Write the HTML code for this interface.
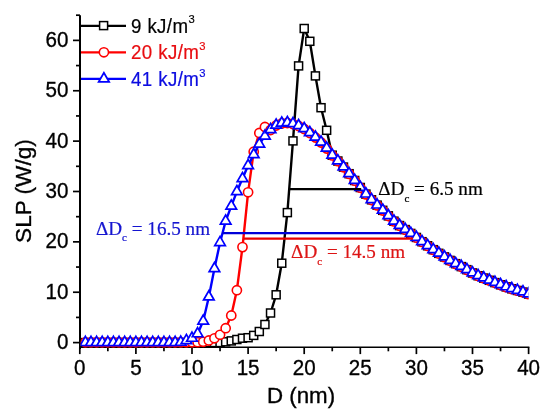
<!DOCTYPE html>
<html><head><meta charset="utf-8"><style>html,body{margin:0;padding:0;background:#fff;width:550px;height:412px;overflow:hidden}svg{display:block}</style></head>
<body><svg width="550" height="412" viewBox="0 0 550 412">
<rect width="550" height="412" fill="#fff"/>
<defs><clipPath id="c"><rect x="80.5" y="0" width="448.1" height="348.3"/></clipPath></defs>
<g stroke="#000" stroke-width="2" fill="none"><line x1="80" y1="15.2" x2="80" y2="349" /><line x1="79" y1="347.3" x2="529.4" y2="347.3" stroke-width="1.6"/></g>
<g stroke="#000" stroke-width="1.7"><line x1="73" y1="342.60" x2="80" y2="342.60"/><line x1="76" y1="317.42" x2="80" y2="317.42"/><line x1="73" y1="292.23" x2="80" y2="292.23"/><line x1="76" y1="267.05" x2="80" y2="267.05"/><line x1="73" y1="241.86" x2="80" y2="241.86"/><line x1="76" y1="216.68" x2="80" y2="216.68"/><line x1="73" y1="191.49" x2="80" y2="191.49"/><line x1="76" y1="166.31" x2="80" y2="166.31"/><line x1="73" y1="141.12" x2="80" y2="141.12"/><line x1="76" y1="115.94" x2="80" y2="115.94"/><line x1="73" y1="90.75" x2="80" y2="90.75"/><line x1="76" y1="65.57" x2="80" y2="65.57"/><line x1="73" y1="40.38" x2="80" y2="40.38"/><line x1="76" y1="15.20" x2="80" y2="15.20"/><line x1="79.80" y1="347.3" x2="79.80" y2="354.1"/><line x1="107.85" y1="347.3" x2="107.85" y2="351.3"/><line x1="135.90" y1="347.3" x2="135.90" y2="354.1"/><line x1="163.95" y1="347.3" x2="163.95" y2="351.3"/><line x1="192.00" y1="347.3" x2="192.00" y2="354.1"/><line x1="220.05" y1="347.3" x2="220.05" y2="351.3"/><line x1="248.10" y1="347.3" x2="248.10" y2="354.1"/><line x1="276.15" y1="347.3" x2="276.15" y2="351.3"/><line x1="304.20" y1="347.3" x2="304.20" y2="354.1"/><line x1="332.25" y1="347.3" x2="332.25" y2="351.3"/><line x1="360.30" y1="347.3" x2="360.30" y2="354.1"/><line x1="388.35" y1="347.3" x2="388.35" y2="351.3"/><line x1="416.40" y1="347.3" x2="416.40" y2="354.1"/><line x1="444.45" y1="347.3" x2="444.45" y2="351.3"/><line x1="472.50" y1="347.3" x2="472.50" y2="354.1"/><line x1="500.55" y1="347.3" x2="500.55" y2="351.3"/><line x1="528.60" y1="347.3" x2="528.60" y2="354.1"/></g>

<g clip-path="url(#c)">
<g fill="none" stroke="#000" stroke-width="2.4" stroke-linejoin="round"><polyline points="85.41,342.60 91.02,342.60 96.63,342.60 102.24,342.60 107.85,342.60 113.46,342.60 119.07,342.60 124.68,342.60 130.29,342.60 135.90,342.60 141.51,342.60 147.12,342.60 152.73,342.60 158.34,342.60 163.95,342.60 169.56,342.60 175.17,342.60 180.78,342.60 186.39,342.60 192.00,342.60 197.61,342.60 203.22,342.60 208.83,342.60 214.44,342.60 220.05,342.60 225.66,341.80 231.27,340.90 236.88,339.50 242.49,338.20 248.10,337.70 253.71,335.40 259.32,331.50 264.93,324.50 270.54,313.00 276.15,294.80 281.76,263.20 287.37,212.60 292.98,140.90 298.59,65.90 304.20,28.50 309.81,41.30 315.42,75.90 321.03,107.70 326.64,130.30 332.25,155.21 337.86,161.02 343.47,167.08 349.08,173.70 354.69,180.48 360.30,187.50 365.91,194.11 371.52,199.79 377.13,205.15 382.74,210.33 388.35,215.85 393.96,221.20 399.57,225.56 405.18,229.58 410.79,233.45 416.40,237.45 422.01,241.69 427.62,245.77 433.23,249.67 438.84,253.35 444.45,256.91 450.06,260.43 455.67,263.66 461.28,266.60 466.89,269.67 472.50,272.95 478.11,275.74 483.72,278.07 489.33,280.30 494.94,282.59 500.55,284.80 506.16,286.88 511.77,288.80 517.38,290.46 522.99,292.10 528.60,294.00"/></g>
<g fill="#fff" stroke="#000" stroke-width="1.5"><rect x="81.41" y="338.60" width="8.0" height="8.0"/><rect x="87.02" y="338.60" width="8.0" height="8.0"/><rect x="92.63" y="338.60" width="8.0" height="8.0"/><rect x="98.24" y="338.60" width="8.0" height="8.0"/><rect x="103.85" y="338.60" width="8.0" height="8.0"/><rect x="109.46" y="338.60" width="8.0" height="8.0"/><rect x="115.07" y="338.60" width="8.0" height="8.0"/><rect x="120.68" y="338.60" width="8.0" height="8.0"/><rect x="126.29" y="338.60" width="8.0" height="8.0"/><rect x="131.90" y="338.60" width="8.0" height="8.0"/><rect x="137.51" y="338.60" width="8.0" height="8.0"/><rect x="143.12" y="338.60" width="8.0" height="8.0"/><rect x="148.73" y="338.60" width="8.0" height="8.0"/><rect x="154.34" y="338.60" width="8.0" height="8.0"/><rect x="159.95" y="338.60" width="8.0" height="8.0"/><rect x="165.56" y="338.60" width="8.0" height="8.0"/><rect x="171.17" y="338.60" width="8.0" height="8.0"/><rect x="176.78" y="338.60" width="8.0" height="8.0"/><rect x="182.39" y="338.60" width="8.0" height="8.0"/><rect x="188.00" y="338.60" width="8.0" height="8.0"/><rect x="193.61" y="338.60" width="8.0" height="8.0"/><rect x="199.22" y="338.60" width="8.0" height="8.0"/><rect x="204.83" y="338.60" width="8.0" height="8.0"/><rect x="210.44" y="338.60" width="8.0" height="8.0"/><rect x="216.05" y="338.60" width="8.0" height="8.0"/><rect x="221.66" y="337.80" width="8.0" height="8.0"/><rect x="227.27" y="336.90" width="8.0" height="8.0"/><rect x="232.88" y="335.50" width="8.0" height="8.0"/><rect x="238.49" y="334.20" width="8.0" height="8.0"/><rect x="244.10" y="333.70" width="8.0" height="8.0"/><rect x="249.71" y="331.40" width="8.0" height="8.0"/><rect x="255.32" y="327.50" width="8.0" height="8.0"/><rect x="260.93" y="320.50" width="8.0" height="8.0"/><rect x="266.54" y="309.00" width="8.0" height="8.0"/><rect x="272.15" y="290.80" width="8.0" height="8.0"/><rect x="277.76" y="259.20" width="8.0" height="8.0"/><rect x="283.37" y="208.60" width="8.0" height="8.0"/><rect x="288.98" y="136.90" width="8.0" height="8.0"/><rect x="294.59" y="61.90" width="8.0" height="8.0"/><rect x="300.20" y="24.50" width="8.0" height="8.0"/><rect x="305.81" y="37.30" width="8.0" height="8.0"/><rect x="311.42" y="71.90" width="8.0" height="8.0"/><rect x="317.03" y="103.70" width="8.0" height="8.0"/><rect x="322.64" y="126.30" width="8.0" height="8.0"/><rect x="328.25" y="151.21" width="8.0" height="8.0"/><rect x="333.86" y="157.02" width="8.0" height="8.0"/><rect x="339.47" y="163.08" width="8.0" height="8.0"/><rect x="345.08" y="169.70" width="8.0" height="8.0"/><rect x="350.69" y="176.48" width="8.0" height="8.0"/><rect x="356.30" y="183.50" width="8.0" height="8.0"/><rect x="361.91" y="190.11" width="8.0" height="8.0"/><rect x="367.52" y="195.79" width="8.0" height="8.0"/><rect x="373.13" y="201.15" width="8.0" height="8.0"/><rect x="378.74" y="206.33" width="8.0" height="8.0"/><rect x="384.35" y="211.85" width="8.0" height="8.0"/><rect x="389.96" y="217.20" width="8.0" height="8.0"/><rect x="395.57" y="221.56" width="8.0" height="8.0"/><rect x="401.18" y="225.58" width="8.0" height="8.0"/><rect x="406.79" y="229.45" width="8.0" height="8.0"/><rect x="412.40" y="233.45" width="8.0" height="8.0"/><rect x="418.01" y="237.69" width="8.0" height="8.0"/><rect x="423.62" y="241.77" width="8.0" height="8.0"/><rect x="429.23" y="245.67" width="8.0" height="8.0"/><rect x="434.84" y="249.35" width="8.0" height="8.0"/><rect x="440.45" y="252.91" width="8.0" height="8.0"/><rect x="446.06" y="256.43" width="8.0" height="8.0"/><rect x="451.67" y="259.66" width="8.0" height="8.0"/><rect x="457.28" y="262.60" width="8.0" height="8.0"/><rect x="462.89" y="265.67" width="8.0" height="8.0"/><rect x="468.50" y="268.95" width="8.0" height="8.0"/><rect x="474.11" y="271.74" width="8.0" height="8.0"/><rect x="479.72" y="274.07" width="8.0" height="8.0"/><rect x="485.33" y="276.30" width="8.0" height="8.0"/><rect x="490.94" y="278.59" width="8.0" height="8.0"/><rect x="496.55" y="280.80" width="8.0" height="8.0"/><rect x="502.16" y="282.88" width="8.0" height="8.0"/><rect x="507.77" y="284.80" width="8.0" height="8.0"/><rect x="513.38" y="286.46" width="8.0" height="8.0"/><rect x="518.99" y="288.10" width="8.0" height="8.0"/><rect x="524.60" y="290.00" width="8.0" height="8.0"/></g>
<g fill="none" stroke="#f00" stroke-width="2.4" stroke-linejoin="round"><polyline points="85.41,342.30 91.02,342.30 96.63,342.30 102.24,342.30 107.85,342.30 113.46,342.30 119.07,342.30 124.68,342.30 130.29,342.30 135.90,342.30 141.51,342.30 147.12,342.30 152.73,342.30 158.34,342.30 163.95,342.30 169.56,342.30 175.17,342.30 180.78,342.30 186.39,342.30 192.00,342.30 197.61,342.20 203.22,341.80 208.83,340.50 214.44,338.30 220.05,334.80 225.66,328.20 231.27,315.50 236.88,290.20 242.49,247.10 248.10,192.30 253.71,151.70 259.32,133.00 264.93,127.00 270.54,130.00 276.15,125.50 281.76,123.50 287.37,123.00 292.98,124.00 298.59,126.00 304.20,129.00 309.81,133.00 315.42,137.50 321.03,142.50 326.64,148.50 332.25,155.41 337.86,161.22 343.47,167.28 349.08,173.90 354.69,180.68 360.30,187.70 365.91,194.31 371.52,199.99 377.13,205.35 382.74,210.53 388.35,216.05 393.96,221.40 399.57,225.76 405.18,229.78 410.79,233.65 416.40,237.65 422.01,241.89 427.62,245.97 433.23,249.87 438.84,253.55 444.45,257.11 450.06,260.63 455.67,263.86 461.28,266.80 466.89,269.87 472.50,273.15 478.11,275.94 483.72,278.27 489.33,280.50 494.94,282.79 500.55,285.00 506.16,287.08 511.77,289.00 517.38,290.66 522.99,292.30 528.60,294.20"/></g>
<g fill="#fff" stroke="#f00" stroke-width="1.6"><circle cx="85.41" cy="342.30" r="4.6"/><circle cx="91.02" cy="342.30" r="4.6"/><circle cx="96.63" cy="342.30" r="4.6"/><circle cx="102.24" cy="342.30" r="4.6"/><circle cx="107.85" cy="342.30" r="4.6"/><circle cx="113.46" cy="342.30" r="4.6"/><circle cx="119.07" cy="342.30" r="4.6"/><circle cx="124.68" cy="342.30" r="4.6"/><circle cx="130.29" cy="342.30" r="4.6"/><circle cx="135.90" cy="342.30" r="4.6"/><circle cx="141.51" cy="342.30" r="4.6"/><circle cx="147.12" cy="342.30" r="4.6"/><circle cx="152.73" cy="342.30" r="4.6"/><circle cx="158.34" cy="342.30" r="4.6"/><circle cx="163.95" cy="342.30" r="4.6"/><circle cx="169.56" cy="342.30" r="4.6"/><circle cx="175.17" cy="342.30" r="4.6"/><circle cx="180.78" cy="342.30" r="4.6"/><circle cx="186.39" cy="342.30" r="4.6"/><circle cx="192.00" cy="342.30" r="4.6"/><circle cx="197.61" cy="342.20" r="4.6"/><circle cx="203.22" cy="341.80" r="4.6"/><circle cx="208.83" cy="340.50" r="4.6"/><circle cx="214.44" cy="338.30" r="4.6"/><circle cx="220.05" cy="334.80" r="4.6"/><circle cx="225.66" cy="328.20" r="4.6"/><circle cx="231.27" cy="315.50" r="4.6"/><circle cx="236.88" cy="290.20" r="4.6"/><circle cx="242.49" cy="247.10" r="4.6"/><circle cx="248.10" cy="192.30" r="4.6"/><circle cx="253.71" cy="151.70" r="4.6"/><circle cx="259.32" cy="133.00" r="4.6"/><circle cx="264.93" cy="127.00" r="4.6"/><circle cx="270.54" cy="130.00" r="4.6"/><circle cx="276.15" cy="125.50" r="4.6"/><circle cx="281.76" cy="123.50" r="4.6"/><circle cx="287.37" cy="123.00" r="4.6"/><circle cx="292.98" cy="124.00" r="4.6"/><circle cx="298.59" cy="126.00" r="4.6"/><circle cx="304.20" cy="129.00" r="4.6"/><circle cx="309.81" cy="133.00" r="4.6"/><circle cx="315.42" cy="137.50" r="4.6"/><circle cx="321.03" cy="142.50" r="4.6"/><circle cx="326.64" cy="148.50" r="4.6"/><circle cx="332.25" cy="155.41" r="4.6"/><circle cx="337.86" cy="161.22" r="4.6"/><circle cx="343.47" cy="167.28" r="4.6"/><circle cx="349.08" cy="173.90" r="4.6"/><circle cx="354.69" cy="180.68" r="4.6"/><circle cx="360.30" cy="187.70" r="4.6"/><circle cx="365.91" cy="194.31" r="4.6"/><circle cx="371.52" cy="199.99" r="4.6"/><circle cx="377.13" cy="205.35" r="4.6"/><circle cx="382.74" cy="210.53" r="4.6"/><circle cx="388.35" cy="216.05" r="4.6"/><circle cx="393.96" cy="221.40" r="4.6"/><circle cx="399.57" cy="225.76" r="4.6"/><circle cx="405.18" cy="229.78" r="4.6"/><circle cx="410.79" cy="233.65" r="4.6"/><circle cx="416.40" cy="237.65" r="4.6"/><circle cx="422.01" cy="241.89" r="4.6"/><circle cx="427.62" cy="245.97" r="4.6"/><circle cx="433.23" cy="249.87" r="4.6"/><circle cx="438.84" cy="253.55" r="4.6"/><circle cx="444.45" cy="257.11" r="4.6"/><circle cx="450.06" cy="260.63" r="4.6"/><circle cx="455.67" cy="263.86" r="4.6"/><circle cx="461.28" cy="266.80" r="4.6"/><circle cx="466.89" cy="269.87" r="4.6"/><circle cx="472.50" cy="273.15" r="4.6"/><circle cx="478.11" cy="275.94" r="4.6"/><circle cx="483.72" cy="278.27" r="4.6"/><circle cx="489.33" cy="280.50" r="4.6"/><circle cx="494.94" cy="282.79" r="4.6"/><circle cx="500.55" cy="285.00" r="4.6"/><circle cx="506.16" cy="287.08" r="4.6"/><circle cx="511.77" cy="289.00" r="4.6"/><circle cx="517.38" cy="290.66" r="4.6"/><circle cx="522.99" cy="292.30" r="4.6"/><circle cx="528.60" cy="294.20" r="4.6"/></g>
<g fill="none" stroke="#00f" stroke-width="2.4" stroke-linejoin="round"><polyline points="85.41,342.45 91.02,342.45 96.63,342.45 102.24,342.45 107.85,342.45 113.46,342.45 119.07,342.45 124.68,342.45 130.29,342.45 135.90,342.45 141.51,342.45 147.12,342.45 152.73,342.45 158.34,342.45 163.95,342.45 169.56,342.45 175.17,342.45 180.78,342.20 186.39,340.50 192.00,338.20 197.61,333.70 203.22,321.10 208.83,296.90 214.44,268.60 220.05,242.50 225.66,221.10 231.27,206.10 236.88,191.60 242.49,178.60 248.10,165.60 253.71,154.60 259.32,144.10 264.93,136.10 270.54,129.60 276.15,125.10 281.76,123.10 287.37,122.60 292.98,123.60 298.59,125.60 304.20,128.60 309.81,132.60 315.42,137.10 321.03,142.10 326.64,148.10 332.25,155.01 337.86,160.82 343.47,166.88 349.08,173.50 354.69,180.28 360.30,187.30 365.91,193.91 371.52,199.59 377.13,204.95 382.74,210.13 388.35,215.65 393.96,221.00 399.57,225.36 405.18,229.38 410.79,233.25 416.40,237.25 422.01,241.49 427.62,245.57 433.23,249.47 438.84,253.15 444.45,256.71 450.06,260.23 455.67,263.46 461.28,266.40 466.89,269.47 472.50,272.75 478.11,275.54 483.72,277.87 489.33,280.10 494.94,282.39 500.55,284.60 506.16,286.68 511.77,288.60 517.38,290.26 522.99,291.90 528.60,293.80"/></g>
<g fill="#fff" stroke="#00f" stroke-width="1.7" stroke-linejoin="miter"><path d="M85.41,336.32L90.71,345.52L80.11,345.52Z"/><path d="M91.02,336.32L96.32,345.52L85.72,345.52Z"/><path d="M96.63,336.32L101.93,345.52L91.33,345.52Z"/><path d="M102.24,336.32L107.54,345.52L96.94,345.52Z"/><path d="M107.85,336.32L113.15,345.52L102.55,345.52Z"/><path d="M113.46,336.32L118.76,345.52L108.16,345.52Z"/><path d="M119.07,336.32L124.37,345.52L113.77,345.52Z"/><path d="M124.68,336.32L129.98,345.52L119.38,345.52Z"/><path d="M130.29,336.32L135.59,345.52L124.99,345.52Z"/><path d="M135.90,336.32L141.20,345.52L130.60,345.52Z"/><path d="M141.51,336.32L146.81,345.52L136.21,345.52Z"/><path d="M147.12,336.32L152.42,345.52L141.82,345.52Z"/><path d="M152.73,336.32L158.03,345.52L147.43,345.52Z"/><path d="M158.34,336.32L163.64,345.52L153.04,345.52Z"/><path d="M163.95,336.32L169.25,345.52L158.65,345.52Z"/><path d="M169.56,336.32L174.86,345.52L164.26,345.52Z"/><path d="M175.17,336.32L180.47,345.52L169.87,345.52Z"/><path d="M180.78,336.07L186.08,345.27L175.48,345.27Z"/><path d="M186.39,334.37L191.69,343.57L181.09,343.57Z"/><path d="M192.00,332.07L197.30,341.27L186.70,341.27Z"/><path d="M197.61,327.57L202.91,336.77L192.31,336.77Z"/><path d="M203.22,314.97L208.52,324.17L197.92,324.17Z"/><path d="M208.83,290.77L214.13,299.97L203.53,299.97Z"/><path d="M214.44,262.47L219.74,271.67L209.14,271.67Z"/><path d="M220.05,236.37L225.35,245.57L214.75,245.57Z"/><path d="M225.66,214.97L230.96,224.17L220.36,224.17Z"/><path d="M231.27,199.97L236.57,209.17L225.97,209.17Z"/><path d="M236.88,185.47L242.18,194.67L231.58,194.67Z"/><path d="M242.49,172.47L247.79,181.67L237.19,181.67Z"/><path d="M248.10,159.47L253.40,168.67L242.80,168.67Z"/><path d="M253.71,148.47L259.01,157.67L248.41,157.67Z"/><path d="M259.32,137.97L264.62,147.17L254.02,147.17Z"/><path d="M264.93,129.97L270.23,139.17L259.63,139.17Z"/><path d="M270.54,123.47L275.84,132.67L265.24,132.67Z"/><path d="M276.15,118.97L281.45,128.17L270.85,128.17Z"/><path d="M281.76,116.97L287.06,126.17L276.46,126.17Z"/><path d="M287.37,116.47L292.67,125.67L282.07,125.67Z"/><path d="M292.98,117.47L298.28,126.67L287.68,126.67Z"/><path d="M298.59,119.47L303.89,128.67L293.29,128.67Z"/><path d="M304.20,122.47L309.50,131.67L298.90,131.67Z"/><path d="M309.81,126.47L315.11,135.67L304.51,135.67Z"/><path d="M315.42,130.97L320.72,140.17L310.12,140.17Z"/><path d="M321.03,135.97L326.33,145.17L315.73,145.17Z"/><path d="M326.64,141.97L331.94,151.17L321.34,151.17Z"/><path d="M332.25,148.88L337.55,158.08L326.95,158.08Z"/><path d="M337.86,154.68L343.16,163.88L332.56,163.88Z"/><path d="M343.47,160.75L348.77,169.95L338.17,169.95Z"/><path d="M349.08,167.37L354.38,176.57L343.78,176.57Z"/><path d="M354.69,174.15L359.99,183.35L349.39,183.35Z"/><path d="M360.30,181.17L365.60,190.37L355.00,190.37Z"/><path d="M365.91,187.78L371.21,196.98L360.61,196.98Z"/><path d="M371.52,193.45L376.82,202.65L366.22,202.65Z"/><path d="M377.13,198.81L382.43,208.01L371.83,208.01Z"/><path d="M382.74,204.00L388.04,213.20L377.44,213.20Z"/><path d="M388.35,209.51L393.65,218.71L383.05,218.71Z"/><path d="M393.96,214.87L399.26,224.07L388.66,224.07Z"/><path d="M399.57,219.23L404.87,228.43L394.27,228.43Z"/><path d="M405.18,223.25L410.48,232.45L399.88,232.45Z"/><path d="M410.79,227.11L416.09,236.31L405.49,236.31Z"/><path d="M416.40,231.12L421.70,240.32L411.10,240.32Z"/><path d="M422.01,235.36L427.31,244.56L416.71,244.56Z"/><path d="M427.62,239.43L432.92,248.63L422.32,248.63Z"/><path d="M433.23,243.34L438.53,252.54L427.93,252.54Z"/><path d="M438.84,247.02L444.14,256.22L433.54,256.22Z"/><path d="M444.45,250.58L449.75,259.78L439.15,259.78Z"/><path d="M450.06,254.10L455.36,263.30L444.76,263.30Z"/><path d="M455.67,257.33L460.97,266.53L450.37,266.53Z"/><path d="M461.28,260.27L466.58,269.47L455.98,269.47Z"/><path d="M466.89,263.34L472.19,272.54L461.59,272.54Z"/><path d="M472.50,266.62L477.80,275.82L467.20,275.82Z"/><path d="M478.11,269.41L483.41,278.61L472.81,278.61Z"/><path d="M483.72,271.73L489.02,280.93L478.42,280.93Z"/><path d="M489.33,273.97L494.63,283.17L484.03,283.17Z"/><path d="M494.94,276.26L500.24,285.46L489.64,285.46Z"/><path d="M500.55,278.47L505.85,287.67L495.25,287.67Z"/><path d="M506.16,280.54L511.46,289.74L500.86,289.74Z"/><path d="M511.77,282.47L517.07,291.67L506.47,291.67Z"/><path d="M517.38,284.12L522.68,293.32L512.08,293.32Z"/><path d="M522.99,285.77L528.29,294.97L517.69,294.97Z"/><path d="M528.60,287.67L533.90,296.87L523.30,296.87Z"/></g>
</g>
<!-- half-max lines -->
<line x1="290" y1="189.2" x2="361.2" y2="189.2" stroke="#000" stroke-width="2.3"/>
<line x1="222" y1="233.1" x2="401" y2="233.1" stroke="#0000d8" stroke-width="2.3"/>
<line x1="243.6" y1="238.7" x2="413" y2="238.7" stroke="#e80000" stroke-width="2.3"/>
<g font-family="'Liberation Sans', Arial, sans-serif" font-size="22.7" fill="#000" stroke="#000" stroke-width="0.35"><text transform="translate(68.5,349.10) scale(0.907,1)" text-anchor="end">0</text><text transform="translate(68.5,298.73) scale(0.907,1)" text-anchor="end">10</text><text transform="translate(68.5,248.36) scale(0.907,1)" text-anchor="end">20</text><text transform="translate(68.5,197.99) scale(0.907,1)" text-anchor="end">30</text><text transform="translate(68.5,147.62) scale(0.907,1)" text-anchor="end">40</text><text transform="translate(68.5,97.25) scale(0.907,1)" text-anchor="end">50</text><text transform="translate(68.5,46.88) scale(0.907,1)" text-anchor="end">60</text><text transform="translate(79.80,374.8) scale(0.907,1)" text-anchor="middle">0</text><text transform="translate(135.90,374.8) scale(0.907,1)" text-anchor="middle">5</text><text transform="translate(192.00,374.8) scale(0.907,1)" text-anchor="middle">10</text><text transform="translate(248.10,374.8) scale(0.907,1)" text-anchor="middle">15</text><text transform="translate(304.20,374.8) scale(0.907,1)" text-anchor="middle">20</text><text transform="translate(360.30,374.8) scale(0.907,1)" text-anchor="middle">25</text><text transform="translate(416.40,374.8) scale(0.907,1)" text-anchor="middle">30</text><text transform="translate(472.50,374.8) scale(0.907,1)" text-anchor="middle">35</text><text transform="translate(528.60,374.8) scale(0.907,1)" text-anchor="middle">40</text></g>
<text transform="translate(301,402.6) scale(1.0,1)" text-anchor="middle" font-family="'Liberation Sans', Arial, sans-serif" font-size="22.3" stroke="#000" stroke-width="0.35">D (nm)</text>
<text transform="translate(31.3,191.1) rotate(-90) scale(1.012,1)" text-anchor="middle" font-family="'Liberation Sans', Arial, sans-serif" font-size="22.3" stroke="#000" stroke-width="0.35">SLP (W/g)</text>
<!-- legend -->
<g stroke-width="2.3">
<line x1="81" y1="25.85" x2="126" y2="25.85" stroke="#000"/>
<rect x="99.6" y="21.6" width="8.0" height="8.0" fill="#fff" stroke="#000" stroke-width="1.5"/>
<line x1="81" y1="52.3" x2="126" y2="52.3" stroke="#f00"/>
<circle cx="103.9" cy="52.3" r="4.6" fill="#fff" stroke="#f00" stroke-width="1.6"/>
<line x1="81" y1="78.9" x2="126" y2="78.9" stroke="#00f"/>
<path d="M103.9,72.77L109.20,81.97L98.60,81.97Z" fill="#fff" stroke="#00f" stroke-width="1.7"/>
</g>
<g font-family="'Liberation Sans', Arial, sans-serif" font-size="19.3" stroke-width="0.2" letter-spacing="0.4">
<text transform="translate(131,32.8) scale(0.97,1)" fill="#000" stroke="#000">9 kJ/m<tspan font-size="11.6" dy="-9.4">3</tspan></text>
<text transform="translate(131,59.0) scale(0.97,1)" fill="#e80c10" stroke="#e80c10">20 kJ/m<tspan font-size="11.6" dy="-9.4">3</tspan></text>
<text transform="translate(131,85.9) scale(0.97,1)" fill="#0c0ce0" stroke="#0c0ce0">41 kJ/m<tspan font-size="11.6" dy="-9.4">3</tspan></text>
</g>
<g font-family="'Liberation Serif', 'Times New Roman', serif" font-size="18.2" stroke-width="0.2">
<text transform="translate(378.3,195) scale(1.05,1)" fill="#000" stroke="#000">ΔD<tspan font-size="10.6" dy="6.6">c</tspan><tspan dy="-6.6"> = 6.5 nm</tspan></text>
<text transform="translate(96,234.8) scale(1.05,1)" fill="#1515d0" stroke="#1515d0">ΔD<tspan font-size="10.6" dy="6.6">c</tspan><tspan dy="-6.6"> = 16.5 nm</tspan></text>
<text transform="translate(291.1,258) scale(1.05,1)" fill="#dd1515" stroke="#dd1515">ΔD<tspan font-size="10.6" dy="6.6">c</tspan><tspan dy="-6.6"> = 14.5 nm</tspan></text>
</g>
</svg></body></html>
